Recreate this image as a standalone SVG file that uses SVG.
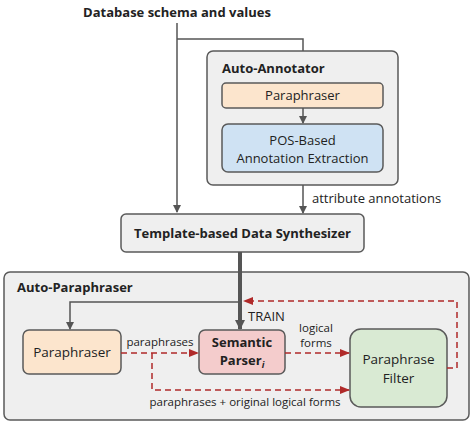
<svg xmlns="http://www.w3.org/2000/svg" width="474" height="428" viewBox="0 0 474 428">
<style>
text{font-family:"Open Sans","Noto Sans",sans-serif;fill:#222}
.b{font-weight:bold}
.box{stroke:#5a5a5a;stroke-width:1.5}
.ln{fill:none;stroke:#555;stroke-width:1.5}
.red{fill:none;stroke:#b02a2a;stroke-width:1.5;stroke-dasharray:6,4}
.t13{font-size:13px}
.t14{font-size:13.5px}
.t12{font-size:11.5px}
</style>
<defs>
<marker id="ag" markerWidth="8" markerHeight="8" refX="7" refY="4" orient="auto" markerUnits="userSpaceOnUse"><path d="M0,0 L8,4 L0,8 z" fill="#555"/></marker>
<marker id="agb" markerWidth="10" markerHeight="10" refX="9" refY="5" orient="auto" markerUnits="userSpaceOnUse"><path d="M0,0 L10,5 L0,10 z" fill="#555"/></marker>
<marker id="ar" markerWidth="10" markerHeight="8" refX="9" refY="4" orient="auto" markerUnits="userSpaceOnUse"><path d="M0,0 L10,4 L0,8 z" fill="#b02a2a"/></marker>
</defs>
<g id="containers">
<rect class="box" x="4" y="272" width="465" height="148" rx="6" fill="#efefef"/>
<text class="b t13" x="17" y="292">Auto-Paraphraser</text>
</g>
<g id="auto-annotator">
<rect class="box" x="207" y="51" width="191" height="134" rx="6" fill="#efefef"/>
<text class="b t13" x="222" y="73">Auto-Annotator</text>
</g>
<g id="input-label"><text class="b t13" x="177" y="17" text-anchor="middle">Database schema and values</text></g>
<g id="aa-paraphraser">
<rect class="box" x="222" y="83" width="161" height="25" rx="4" fill="#fce5cd"/>
<text class="t13" x="302.5" y="100" text-anchor="middle">Paraphraser</text>
</g>
<g id="pos">
<rect class="box" x="222" y="124" width="161" height="48" rx="6" fill="#cfe2f3"/>
<text class="t13" x="302.5" y="145" text-anchor="middle">POS-Based</text>
<text class="t13" x="302.5" y="163" text-anchor="middle">Annotation Extraction</text>
</g>
<g id="synth">
<rect class="box" x="121" y="214" width="243" height="38" rx="5" fill="#efefef"/>
<text class="b t13" x="242.5" y="238" text-anchor="middle">Template-based Data Synthesizer</text>
</g>
<g id="paraphraser">
<rect class="box" x="23" y="330" width="98" height="44" rx="6" fill="#fce5cd"/>
<text class="t14" x="72" y="357" text-anchor="middle">Paraphraser</text>
</g>
<g id="parser">
<rect class="box" x="199" y="330" width="86" height="44" rx="6" fill="#f4cccc"/>
<text class="b t13" x="242" y="347" text-anchor="middle">Semantic</text>
<text class="b t13" x="242" y="365" text-anchor="middle">Parser<tspan font-size="9" font-style="italic" dy="3">i</tspan></text>
</g>
<g id="filter">
<rect class="box" x="350" y="329" width="97" height="78" rx="11" fill="#d9ead3"/>
<text class="t14" x="398.5" y="364" text-anchor="middle">Paraphrase</text>
<text class="t14" x="398.5" y="383" text-anchor="middle">Filter</text>
</g>
<g id="connectors">
<path class="ln" d="M177,23 V212" marker-end="url(#ag)"/>
<path class="ln" d="M177,39 H303 V51"/>
<path class="ln" d="M303,108 V123" marker-end="url(#ag)"/>
<path class="ln" d="M303,185 V213" marker-end="url(#ag)"/>
<path fill="none" stroke="#555" stroke-width="4" d="M240,252 V329" marker-end="url(#agb)"/>
<path class="ln" d="M240,302 H70 V329" marker-end="url(#ag)"/>
<path class="red" d="M121,353 H198" marker-end="url(#ar)"/>
<path class="red" d="M152,353 V390 H349" marker-end="url(#ar)"/>
<path class="red" d="M285,353 H349" marker-end="url(#ar)"/>
<path class="red" d="M447,368 H457 V301 H244" marker-end="url(#ar)"/>
</g>
<g id="labels">
<text class="t13" x="312" y="203">attribute annotations</text>
<text class="t13" x="248" y="321">TRAIN</text>
<text class="t12" x="160" y="346" text-anchor="middle">paraphrases</text>
<text class="t12" x="316" y="332" text-anchor="middle">logical</text>
<text class="t12" x="316" y="347" text-anchor="middle">forms</text>
<text class="t12" x="245" y="406" text-anchor="middle" font-size="11.8">paraphrases + original logical forms</text>
</g>
</svg>
